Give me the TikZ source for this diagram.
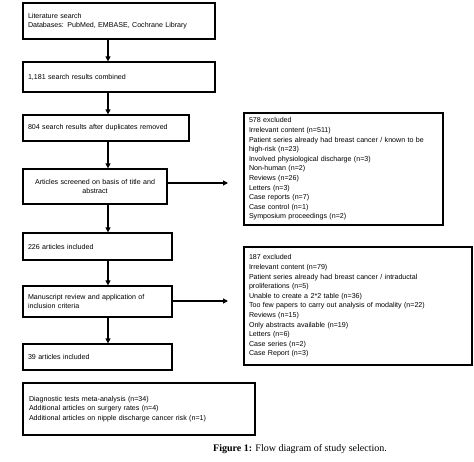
\documentclass[tikz,border=0pt]{standalone}
\usepackage{fontspec}
\setmainfont{Liberation Serif}
\newfontfamily\boxfont{Liberation Sans}
\usetikzlibrary{arrows.meta}
\begin{document}
\begin{tikzpicture}[x=1pt,y=-1pt,
  flowbox/.style={draw=black, line width=1.3pt, inner xsep=5pt, inner ysep=0pt,
    font=\boxfont\fontsize{7.1}{9.4}\selectfont, align=left},
  exclbox/.style={flowbox, line width=1.8pt, font=\boxfont\fontsize{7.1}{9.6}\selectfont},
  arr/.style={line width=1.1pt, -{Triangle[length=5pt,width=5pt]}}]
\useasboundingbox (0,0) rectangle (474,461);
% main column
\node[flowbox, minimum width=192pt, minimum height=36pt, text width=182pt] (b1) at (119,21)
  {Literature search\\Databases: PubMed, EMBASE, Cochrane Library};
\node[flowbox, minimum width=192pt, minimum height=30pt, text width=182pt] (b2) at (119,77)
  {1,181 search results combined};
\node[flowbox, minimum width=166pt, minimum height=26pt, text width=156pt, inner xsep=3pt] (b3) at (106,128)
  {804 search results after duplicates removed};
\node[flowbox, minimum width=144pt, minimum height=35pt, text width=134pt, align=center] (b4) at (95,186.5)
  {Articles screened on basis of title and\\abstract};
\node[flowbox, minimum width=149pt, minimum height=27pt, text width=139pt] (b5) at (97.5,246.5)
  {226 articles included};
\node[flowbox, minimum width=149pt, minimum height=31pt, text width=139pt] (b6) at (97.5,301.5)
  {Manuscript review and application of\\inclusion criteria};
\node[flowbox, minimum width=149pt, minimum height=26pt, text width=139pt] (b7) at (97.5,357)
  {39 articles included};
\node[flowbox, line width=1.5pt, minimum width=232pt, minimum height=52pt, text width=220pt, inner xsep=6pt] (b8) at (139,409)
  {Diagnostic tests meta-analysis (n=34)\\Additional articles on surgery rates (n=4)\\Additional articles on nipple discharge cancer risk (n=1)};
% exclusion boxes
\node[exclbox, minimum width=199pt, minimum height=112pt, text width=189pt] (e1) at (343.5,169)
  {578 excluded\\Irrelevant content (n=511)\\Patient series already had breast cancer / known to be\\high-risk (n=23)\\Involved physiological discharge (n=3)\\Non-human (n=2)\\Reviews (n=26)\\Letters (n=3)\\Case reports (n=7)\\Case control (n=1)\\Symposium proceedings (n=2)};
\node[exclbox, minimum width=228pt, minimum height=118pt, text width=218pt] (e2) at (358,306)
  {187 excluded\\Irrelevant content (n=79)\\Patient series already had breast cancer / intraductal\\proliferations (n=5)\\Unable to create a 2*2 table (n=36)\\Too few papers to carry out analysis of modality (n=22)\\Reviews (n=15)\\Only abstracts available (n=19)\\Letters (n=6)\\Case series (n=2)\\Case Report (n=3)};
% caption
\node[font=\fontsize{10}{12}\selectfont, inner sep=0pt] (cap) at (300,449)
  {\textbf{Figure 1:} Flow diagram of study selection.};
% connectors
\coordinate (ax) at (108,0);
\coordinate (h1) at (228,183);
\coordinate (h2) at (228,301);
\draw[arr] (b1.south -| ax) -- (b2.north -| ax);
\draw[arr] (b2.south -| ax) -- (b3.north -| ax);
\draw[arr] (b3.south -| ax) -- (b4.north -| ax);
\draw[arr] (b4.south -| ax) -- (b5.north -| ax);
\draw[arr] (b5.south -| ax) -- (b6.north -| ax);
\draw[arr] (b6.south -| ax) -- (b7.north -| ax);
\draw[arr] (b4.east |- h1) -- (h1);
\draw[arr] (b6.east |- h2) -- (h2);
\end{tikzpicture}
\end{document}
